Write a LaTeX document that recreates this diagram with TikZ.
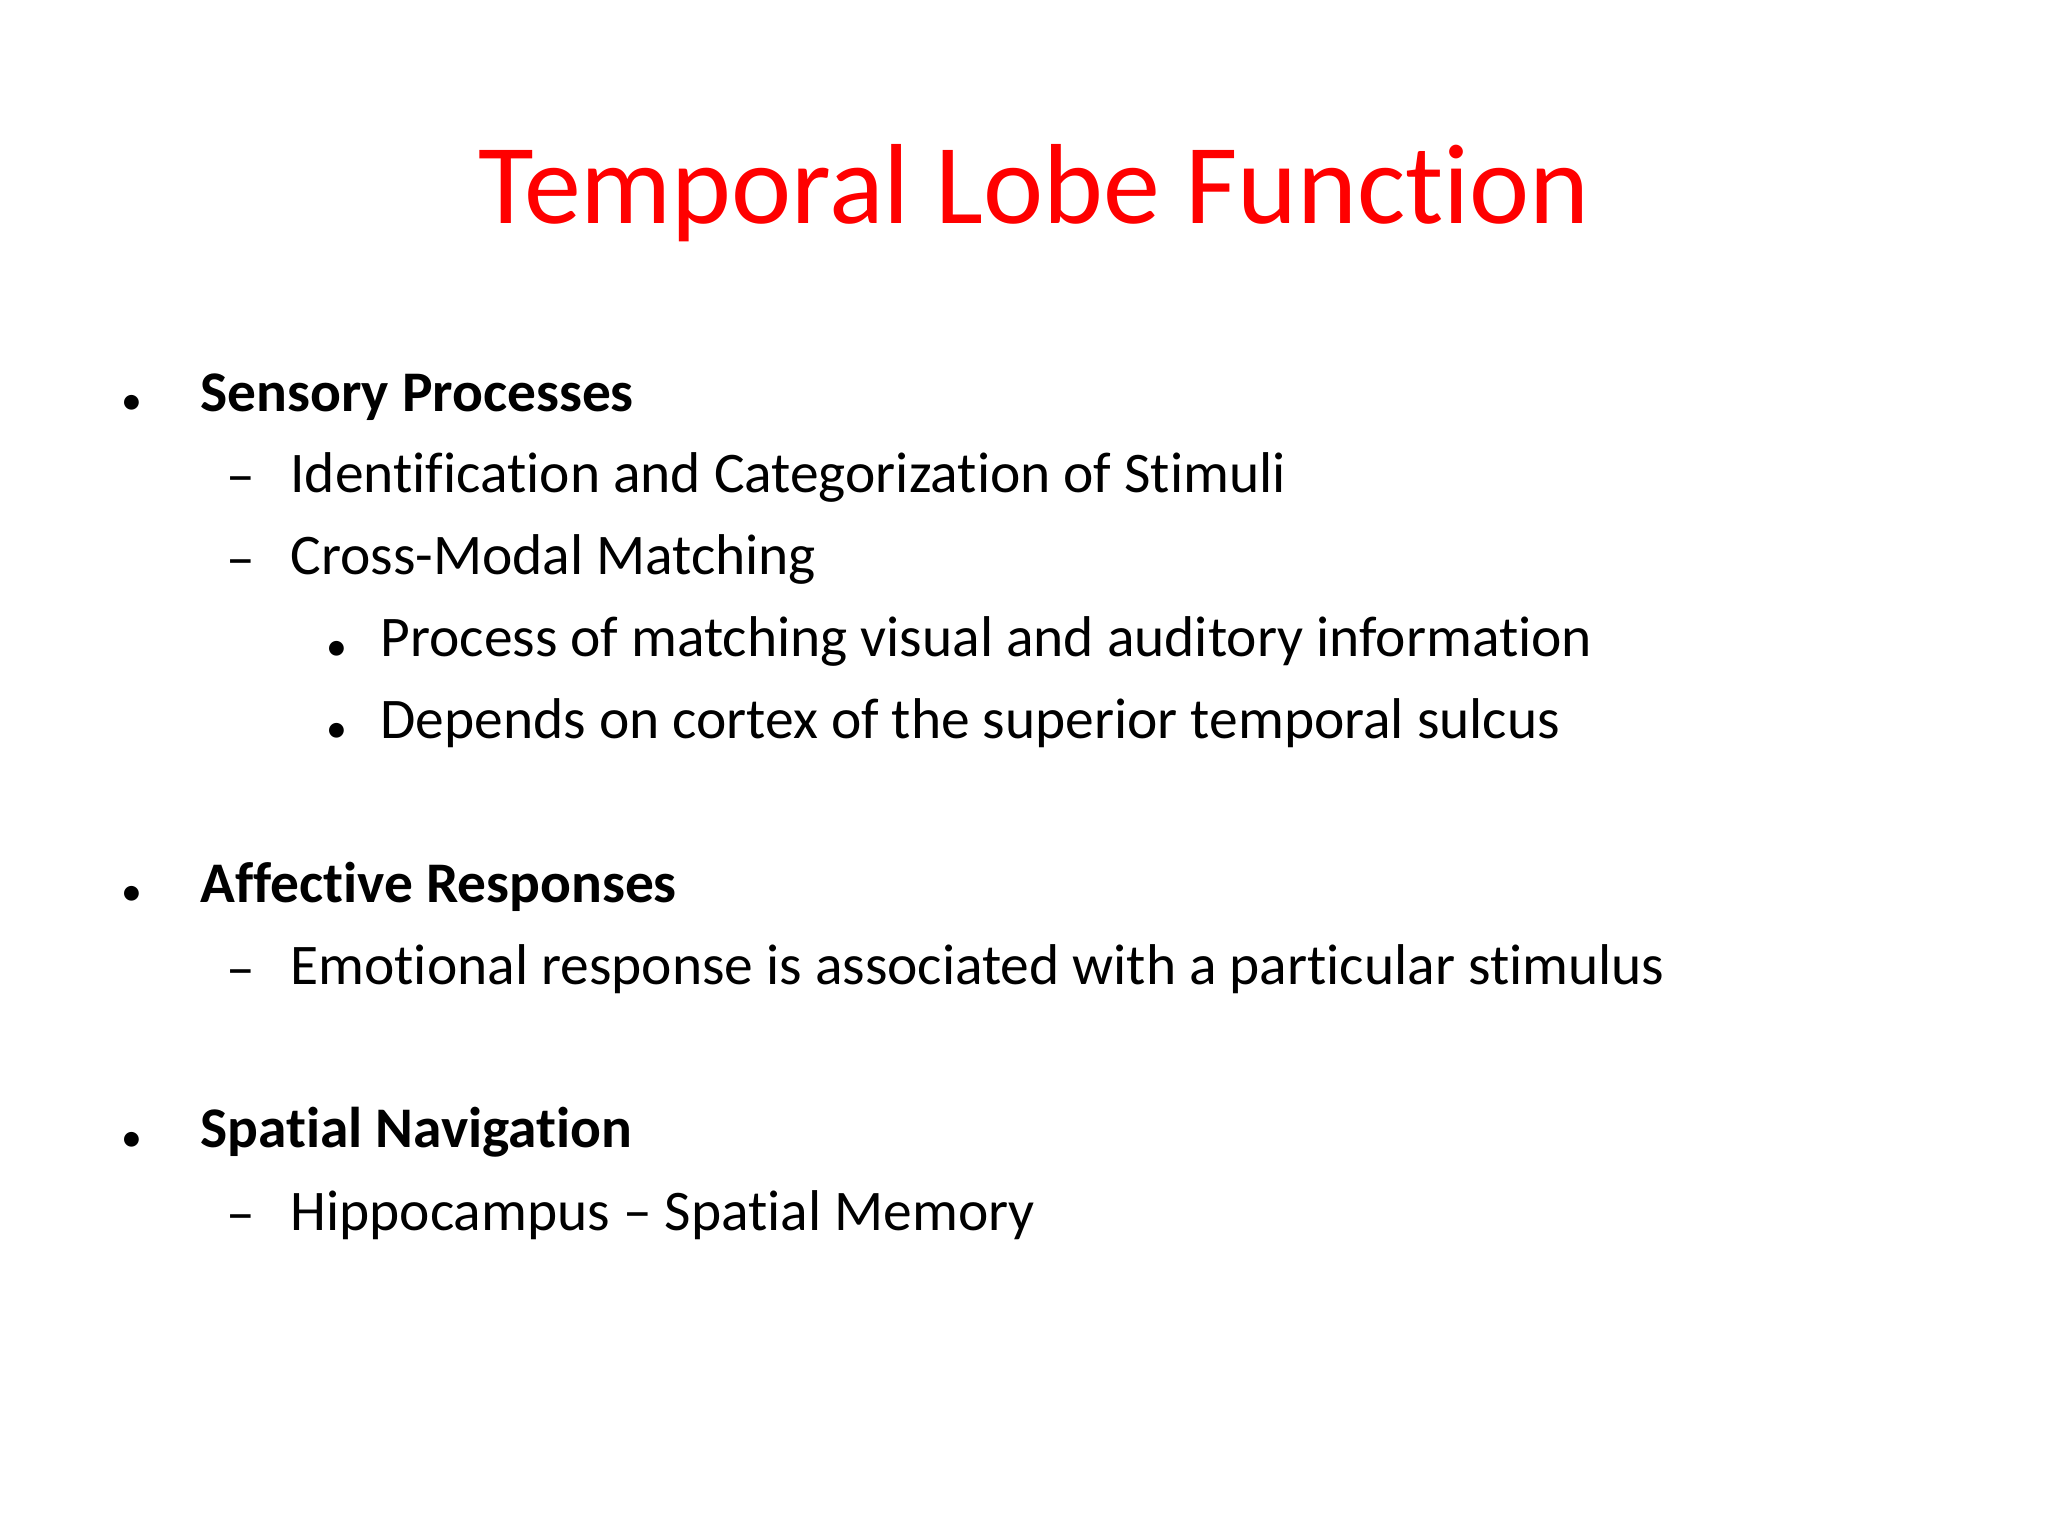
\documentclass[tikz,border=0pt]{standalone}
\usepackage{fontspec}
\setmainfont[Ligatures=NoCommon]{Carlito}
\begin{document}
\begin{tikzpicture}[x=0.5pt,y=-0.5pt,
  t/.style={anchor=mid west,inner sep=0pt},
  lone/.style={t,font=\fontsize{22}{26}\selectfont\bfseries},
  ltwo/.style={t,font=\fontsize{22}{26}\selectfont},
  bul/.style={anchor=center,inner sep=0pt,font=\fontsize{16}{20}\selectfont}]
\useasboundingbox (0,0) rectangle (1568,1176);
\definecolor{tred}{RGB}{255,0,0}
\node[inner sep=0pt,text=tred,font=\fontsize{43.6}{52}\selectfont] (title) at (792,148) {Temporal Lobe Function};
\foreach \y/\n in {310/b1,686/b2,874/b3} \node[bul] (\n) at (101,\y) {•};
\node[lone] (s1) at (153,310) {Sensory Processes};
\node[lone] (s2) at (153,686) {Affective Responses};
\node[lone] (s3) at (153,874) {Spatial Navigation};
\foreach \y/\n in {372/d1,435/d2,749/d3,937/d4} \node[ltwo,anchor=center] (\n) at (184,\y) {–};
\node[ltwo] (i1) at (222,372) {Identification and Categorization of Stimuli};
\node[ltwo] (i2) at (222,435) {Cross-Modal Matching};
\node[ltwo] (i3) at (222,749) {Emotional response is associated with a particular stimulus};
\node[ltwo] (i4) at (222,937) {Hippocampus – Spatial Memory};
\foreach \y/\n in {498/c1,561/c2} \node[bul] (\n) at (258,\y) {•};
\node[ltwo] (j1) at (291,498) {Process of matching visual and auditory information};
\node[ltwo] (j2) at (291,561) {Depends on cortex of the superior temporal sulcus};
\end{tikzpicture}
\end{document}
